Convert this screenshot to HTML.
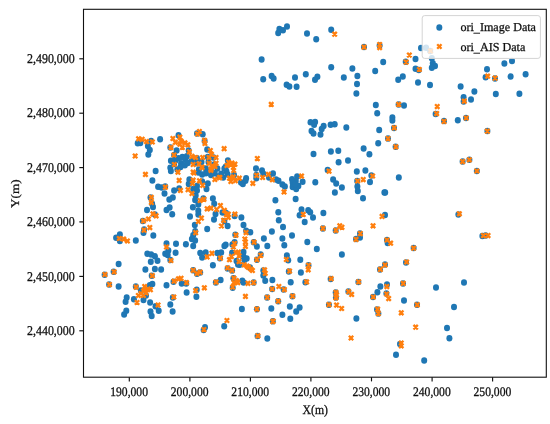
<!DOCTYPE html>
<html><head><meta charset="utf-8"><title>plot</title>
<style>
html,body{margin:0;padding:0;background:#fff;}
svg{display:block;font-family:"Liberation Serif",serif;}
text{text-rendering:geometricPrecision;}
</style></head><body>
<svg width="550" height="424" viewBox="0 0 550 424">
<rect x="0" y="0" width="550" height="424" fill="#fff"/>

<g fill="#1f77b4">
<ellipse cx="287.0" cy="26.4" rx="3.0" ry="3.25"/>
<ellipse cx="279.4" cy="29.0" rx="3.0" ry="3.25"/>
<ellipse cx="283.0" cy="30.2" rx="3.0" ry="3.25"/>
<ellipse cx="278.2" cy="33.0" rx="3.0" ry="3.25"/>
<ellipse cx="307.0" cy="33.4" rx="3.0" ry="3.25"/>
<ellipse cx="316.2" cy="39.2" rx="3.0" ry="3.25"/>
<ellipse cx="331.2" cy="29.8" rx="3.0" ry="3.25"/>
<ellipse cx="261.6" cy="59.4" rx="3.0" ry="3.25"/>
<ellipse cx="331.2" cy="67.2" rx="3.0" ry="3.25"/>
<ellipse cx="352.4" cy="68.4" rx="3.0" ry="3.25"/>
<ellipse cx="305.8" cy="74.2" rx="3.0" ry="3.25"/>
<ellipse cx="271.6" cy="76.0" rx="3.0" ry="3.25"/>
<ellipse cx="273.6" cy="78.4" rx="3.0" ry="3.25"/>
<ellipse cx="263.2" cy="79.2" rx="3.0" ry="3.25"/>
<ellipse cx="295.0" cy="77.6" rx="3.0" ry="3.25"/>
<ellipse cx="317.4" cy="76.8" rx="3.0" ry="3.25"/>
<ellipse cx="315.0" cy="79.8" rx="3.0" ry="3.25"/>
<ellipse cx="343.8" cy="77.4" rx="3.0" ry="3.25"/>
<ellipse cx="286.6" cy="84.8" rx="3.0" ry="3.25"/>
<ellipse cx="289.4" cy="86.6" rx="3.0" ry="3.25"/>
<ellipse cx="296.6" cy="86.8" rx="3.0" ry="3.25"/>
<ellipse cx="357.4" cy="76.0" rx="3.0" ry="3.25"/>
<ellipse cx="357.0" cy="84.0" rx="3.0" ry="3.25"/>
<ellipse cx="356.4" cy="93.6" rx="3.0" ry="3.25"/>
<ellipse cx="364.0" cy="47.0" rx="3.0" ry="3.25"/>
<ellipse cx="379.6" cy="45.6" rx="3.0" ry="3.25"/>
<ellipse cx="383.2" cy="62.0" rx="3.0" ry="3.25"/>
<ellipse cx="375.2" cy="71.0" rx="3.0" ry="3.25"/>
<ellipse cx="402.8" cy="76.6" rx="3.0" ry="3.25"/>
<ellipse cx="398.2" cy="79.8" rx="3.0" ry="3.25"/>
<ellipse cx="418.0" cy="82.6" rx="3.0" ry="3.25"/>
<ellipse cx="430.0" cy="85.0" rx="3.0" ry="3.25"/>
<ellipse cx="421.0" cy="48.1" rx="3.0" ry="3.25"/>
<ellipse cx="426.1" cy="47.8" rx="3.0" ry="3.25"/>
<ellipse cx="430.2" cy="51.0" rx="3.0" ry="3.25"/>
<ellipse cx="431.8" cy="58.3" rx="3.0" ry="3.25"/>
<ellipse cx="415.5" cy="59.0" rx="3.0" ry="3.25"/>
<ellipse cx="405.7" cy="61.8" rx="3.0" ry="3.25"/>
<ellipse cx="415.5" cy="68.8" rx="3.0" ry="3.25"/>
<ellipse cx="418.8" cy="70.0" rx="3.0" ry="3.25"/>
<ellipse cx="432.8" cy="63.3" rx="3.0" ry="3.25"/>
<ellipse cx="435.0" cy="66.0" rx="3.0" ry="3.25"/>
<ellipse cx="431.8" cy="67.8" rx="3.0" ry="3.25"/>
<ellipse cx="512.0" cy="61.0" rx="3.0" ry="3.25"/>
<ellipse cx="504.4" cy="63.6" rx="3.0" ry="3.25"/>
<ellipse cx="487.0" cy="69.2" rx="3.0" ry="3.25"/>
<ellipse cx="485.6" cy="77.2" rx="3.0" ry="3.25"/>
<ellipse cx="495.0" cy="78.4" rx="3.0" ry="3.25"/>
<ellipse cx="510.6" cy="76.6" rx="3.0" ry="3.25"/>
<ellipse cx="525.6" cy="74.2" rx="3.0" ry="3.25"/>
<ellipse cx="460.6" cy="86.4" rx="3.0" ry="3.25"/>
<ellipse cx="474.4" cy="91.4" rx="3.0" ry="3.25"/>
<ellipse cx="495.8" cy="94.0" rx="3.0" ry="3.25"/>
<ellipse cx="519.4" cy="93.8" rx="3.0" ry="3.25"/>
<ellipse cx="463.6" cy="97.2" rx="3.0" ry="3.25"/>
<ellipse cx="471.0" cy="99.6" rx="3.0" ry="3.25"/>
<ellipse cx="463.6" cy="101.6" rx="3.0" ry="3.25"/>
<ellipse cx="444.0" cy="121.0" rx="3.0" ry="3.25"/>
<ellipse cx="457.8" cy="120.2" rx="3.0" ry="3.25"/>
<ellipse cx="466.0" cy="118.0" rx="3.0" ry="3.25"/>
<ellipse cx="487.4" cy="131.0" rx="3.0" ry="3.25"/>
<ellipse cx="310.5" cy="122.2" rx="3.0" ry="3.25"/>
<ellipse cx="315.1" cy="121.9" rx="3.0" ry="3.25"/>
<ellipse cx="314.1" cy="124.7" rx="3.0" ry="3.25"/>
<ellipse cx="323.6" cy="126.0" rx="3.0" ry="3.25"/>
<ellipse cx="321.7" cy="128.9" rx="3.0" ry="3.25"/>
<ellipse cx="311.5" cy="131.1" rx="3.0" ry="3.25"/>
<ellipse cx="313.5" cy="133.6" rx="3.0" ry="3.25"/>
<ellipse cx="320.5" cy="134.5" rx="3.0" ry="3.25"/>
<ellipse cx="330.6" cy="124.7" rx="3.0" ry="3.25"/>
<ellipse cx="334.7" cy="124.3" rx="3.0" ry="3.25"/>
<ellipse cx="346.3" cy="127.4" rx="3.0" ry="3.25"/>
<ellipse cx="313.5" cy="154.0" rx="3.0" ry="3.25"/>
<ellipse cx="330.9" cy="151.5" rx="3.0" ry="3.25"/>
<ellipse cx="338.3" cy="150.8" rx="3.0" ry="3.25"/>
<ellipse cx="338.6" cy="162.2" rx="3.0" ry="3.25"/>
<ellipse cx="348.0" cy="160.4" rx="3.0" ry="3.25"/>
<ellipse cx="327.6" cy="170.0" rx="3.0" ry="3.25"/>
<ellipse cx="256.0" cy="168.6" rx="3.0" ry="3.25"/>
<ellipse cx="262.0" cy="170.6" rx="3.0" ry="3.25"/>
<ellipse cx="273.0" cy="173.6" rx="3.0" ry="3.25"/>
<ellipse cx="375.8" cy="105.0" rx="3.0" ry="3.25"/>
<ellipse cx="377.2" cy="113.2" rx="3.0" ry="3.25"/>
<ellipse cx="398.6" cy="104.6" rx="3.0" ry="3.25"/>
<ellipse cx="404.0" cy="105.6" rx="3.0" ry="3.25"/>
<ellipse cx="392.4" cy="117.6" rx="3.0" ry="3.25"/>
<ellipse cx="392.4" cy="120.4" rx="3.0" ry="3.25"/>
<ellipse cx="379.2" cy="130.0" rx="3.0" ry="3.25"/>
<ellipse cx="394.0" cy="128.0" rx="3.0" ry="3.25"/>
<ellipse cx="388.0" cy="138.6" rx="3.0" ry="3.25"/>
<ellipse cx="378.2" cy="143.2" rx="3.0" ry="3.25"/>
<ellipse cx="395.6" cy="146.8" rx="3.0" ry="3.25"/>
<ellipse cx="363.6" cy="148.4" rx="3.0" ry="3.25"/>
<ellipse cx="369.4" cy="154.2" rx="3.0" ry="3.25"/>
<ellipse cx="356.8" cy="171.6" rx="3.0" ry="3.25"/>
<ellipse cx="365.4" cy="170.6" rx="3.0" ry="3.25"/>
<ellipse cx="435.6" cy="114.0" rx="3.0" ry="3.25"/>
<ellipse cx="462.6" cy="161.6" rx="3.0" ry="3.25"/>
<ellipse cx="469.4" cy="159.8" rx="3.0" ry="3.25"/>
<ellipse cx="476.8" cy="171.0" rx="3.0" ry="3.25"/>
<ellipse cx="458.4" cy="214.4" rx="3.0" ry="3.25"/>
<ellipse cx="482.4" cy="236.0" rx="3.0" ry="3.25"/>
<ellipse cx="485.6" cy="235.4" rx="3.0" ry="3.25"/>
<ellipse cx="464.0" cy="282.6" rx="3.0" ry="3.25"/>
<ellipse cx="398.8" cy="177.4" rx="3.0" ry="3.25"/>
<ellipse cx="357.2" cy="181.0" rx="3.0" ry="3.25"/>
<ellipse cx="370.0" cy="182.0" rx="3.0" ry="3.25"/>
<ellipse cx="357.4" cy="186.4" rx="3.0" ry="3.25"/>
<ellipse cx="357.8" cy="191.0" rx="3.0" ry="3.25"/>
<ellipse cx="363.0" cy="198.2" rx="3.0" ry="3.25"/>
<ellipse cx="384.4" cy="192.4" rx="3.0" ry="3.25"/>
<ellipse cx="385.0" cy="215.0" rx="3.0" ry="3.25"/>
<ellipse cx="360.0" cy="233.6" rx="3.0" ry="3.25"/>
<ellipse cx="360.0" cy="237.6" rx="3.0" ry="3.25"/>
<ellipse cx="356.0" cy="239.0" rx="3.0" ry="3.25"/>
<ellipse cx="387.0" cy="240.0" rx="3.0" ry="3.25"/>
<ellipse cx="387.6" cy="243.0" rx="3.0" ry="3.25"/>
<ellipse cx="413.6" cy="248.0" rx="3.0" ry="3.25"/>
<ellipse cx="385.0" cy="264.6" rx="3.0" ry="3.25"/>
<ellipse cx="380.0" cy="269.4" rx="3.0" ry="3.25"/>
<ellipse cx="406.0" cy="262.4" rx="3.0" ry="3.25"/>
<ellipse cx="358.4" cy="282.0" rx="3.0" ry="3.25"/>
<ellipse cx="387.0" cy="284.4" rx="3.0" ry="3.25"/>
<ellipse cx="380.4" cy="286.4" rx="3.0" ry="3.25"/>
<ellipse cx="403.0" cy="283.4" rx="3.0" ry="3.25"/>
<ellipse cx="377.4" cy="292.2" rx="3.0" ry="3.25"/>
<ellipse cx="386.4" cy="293.6" rx="3.0" ry="3.25"/>
<ellipse cx="373.0" cy="297.0" rx="3.0" ry="3.25"/>
<ellipse cx="436.0" cy="287.6" rx="3.0" ry="3.25"/>
<ellipse cx="404.0" cy="300.6" rx="3.0" ry="3.25"/>
<ellipse cx="417.0" cy="304.8" rx="3.0" ry="3.25"/>
<ellipse cx="454.0" cy="307.0" rx="3.0" ry="3.25"/>
<ellipse cx="377.0" cy="309.4" rx="3.0" ry="3.25"/>
<ellipse cx="378.4" cy="313.6" rx="3.0" ry="3.25"/>
<ellipse cx="356.4" cy="318.6" rx="3.0" ry="3.25"/>
<ellipse cx="447.0" cy="328.0" rx="3.0" ry="3.25"/>
<ellipse cx="449.4" cy="338.2" rx="3.0" ry="3.25"/>
<ellipse cx="400.0" cy="344.0" rx="3.0" ry="3.25"/>
<ellipse cx="396.0" cy="354.8" rx="3.0" ry="3.25"/>
<ellipse cx="424.2" cy="360.6" rx="3.0" ry="3.25"/>
<ellipse cx="297.1" cy="176.5" rx="3.0" ry="3.25"/>
<ellipse cx="292.0" cy="179.3" rx="3.0" ry="3.25"/>
<ellipse cx="295.8" cy="180.9" rx="3.0" ry="3.25"/>
<ellipse cx="292.6" cy="182.8" rx="3.0" ry="3.25"/>
<ellipse cx="298.4" cy="186.0" rx="3.0" ry="3.25"/>
<ellipse cx="292.6" cy="186.9" rx="3.0" ry="3.25"/>
<ellipse cx="296.2" cy="188.9" rx="3.0" ry="3.25"/>
<ellipse cx="302.6" cy="181.8" rx="3.0" ry="3.25"/>
<ellipse cx="315.3" cy="182.3" rx="3.0" ry="3.25"/>
<ellipse cx="333.1" cy="179.6" rx="3.0" ry="3.25"/>
<ellipse cx="336.2" cy="183.5" rx="3.0" ry="3.25"/>
<ellipse cx="341.9" cy="187.5" rx="3.0" ry="3.25"/>
<ellipse cx="334.9" cy="192.4" rx="3.0" ry="3.25"/>
<ellipse cx="295.6" cy="199.0" rx="3.0" ry="3.25"/>
<ellipse cx="301.5" cy="209.5" rx="3.0" ry="3.25"/>
<ellipse cx="308.2" cy="210.2" rx="3.0" ry="3.25"/>
<ellipse cx="310.2" cy="212.3" rx="3.0" ry="3.25"/>
<ellipse cx="299.6" cy="215.3" rx="3.0" ry="3.25"/>
<ellipse cx="323.4" cy="213.1" rx="3.0" ry="3.25"/>
<ellipse cx="313.0" cy="217.4" rx="3.0" ry="3.25"/>
<ellipse cx="295.2" cy="184.3" rx="3.0" ry="3.25"/>
<ellipse cx="304.7" cy="222.0" rx="3.0" ry="3.25"/>
<ellipse cx="322.9" cy="228.4" rx="3.0" ry="3.25"/>
<ellipse cx="335.7" cy="230.5" rx="3.0" ry="3.25"/>
<ellipse cx="292.0" cy="235.4" rx="3.0" ry="3.25"/>
<ellipse cx="307.3" cy="242.0" rx="3.0" ry="3.25"/>
<ellipse cx="316.8" cy="249.0" rx="3.0" ry="3.25"/>
<ellipse cx="341.9" cy="254.6" rx="3.0" ry="3.25"/>
<ellipse cx="286.9" cy="255.5" rx="3.0" ry="3.25"/>
<ellipse cx="288.2" cy="260.2" rx="3.0" ry="3.25"/>
<ellipse cx="300.3" cy="259.8" rx="3.0" ry="3.25"/>
<ellipse cx="308.5" cy="265.3" rx="3.0" ry="3.25"/>
<ellipse cx="288.8" cy="271.4" rx="3.0" ry="3.25"/>
<ellipse cx="300.9" cy="272.6" rx="3.0" ry="3.25"/>
<ellipse cx="290.7" cy="282.2" rx="3.0" ry="3.25"/>
<ellipse cx="305.4" cy="282.2" rx="3.0" ry="3.25"/>
<ellipse cx="330.6" cy="279.0" rx="3.0" ry="3.25"/>
<ellipse cx="292.4" cy="296.2" rx="3.0" ry="3.25"/>
<ellipse cx="289.8" cy="306.4" rx="3.0" ry="3.25"/>
<ellipse cx="299.6" cy="307.6" rx="3.0" ry="3.25"/>
<ellipse cx="296.2" cy="311.5" rx="3.0" ry="3.25"/>
<ellipse cx="290.3" cy="318.8" rx="3.0" ry="3.25"/>
<ellipse cx="335.7" cy="292.4" rx="3.0" ry="3.25"/>
<ellipse cx="335.9" cy="297.5" rx="3.0" ry="3.25"/>
<ellipse cx="328.9" cy="304.8" rx="3.0" ry="3.25"/>
<ellipse cx="348.4" cy="291.5" rx="3.0" ry="3.25"/>
<ellipse cx="227.9" cy="160.4" rx="3.0" ry="3.25"/>
<ellipse cx="225.7" cy="166.7" rx="3.0" ry="3.25"/>
<ellipse cx="226.4" cy="171.2" rx="3.0" ry="3.25"/>
<ellipse cx="227.6" cy="174.4" rx="3.0" ry="3.25"/>
<ellipse cx="223.2" cy="177.5" rx="3.0" ry="3.25"/>
<ellipse cx="234.0" cy="175.0" rx="3.0" ry="3.25"/>
<ellipse cx="241.0" cy="182.6" rx="3.0" ry="3.25"/>
<ellipse cx="242.9" cy="183.9" rx="3.0" ry="3.25"/>
<ellipse cx="246.1" cy="178.2" rx="3.0" ry="3.25"/>
<ellipse cx="245.5" cy="180.7" rx="3.0" ry="3.25"/>
<ellipse cx="256.3" cy="175.0" rx="3.0" ry="3.25"/>
<ellipse cx="256.3" cy="178.2" rx="3.0" ry="3.25"/>
<ellipse cx="263.3" cy="173.7" rx="3.0" ry="3.25"/>
<ellipse cx="269.0" cy="177.5" rx="3.0" ry="3.25"/>
<ellipse cx="276.0" cy="179.5" rx="3.0" ry="3.25"/>
<ellipse cx="278.5" cy="180.7" rx="3.0" ry="3.25"/>
<ellipse cx="282.4" cy="184.5" rx="3.0" ry="3.25"/>
<ellipse cx="284.9" cy="186.5" rx="3.0" ry="3.25"/>
<ellipse cx="160.1" cy="139.3" rx="3.0" ry="3.25"/>
<ellipse cx="155.6" cy="170.9" rx="3.0" ry="3.25"/>
<ellipse cx="178.5" cy="135.3" rx="3.0" ry="3.25"/>
<ellipse cx="170.3" cy="147.4" rx="3.0" ry="3.25"/>
<ellipse cx="176.6" cy="150.5" rx="3.0" ry="3.25"/>
<ellipse cx="174.1" cy="155.0" rx="3.0" ry="3.25"/>
<ellipse cx="170.9" cy="160.7" rx="3.0" ry="3.25"/>
<ellipse cx="178.5" cy="158.2" rx="3.0" ry="3.25"/>
<ellipse cx="174.1" cy="163.9" rx="3.0" ry="3.25"/>
<ellipse cx="170.3" cy="167.7" rx="3.0" ry="3.25"/>
<ellipse cx="181.1" cy="163.3" rx="3.0" ry="3.25"/>
<ellipse cx="185.5" cy="159.5" rx="3.0" ry="3.25"/>
<ellipse cx="184.9" cy="165.2" rx="3.0" ry="3.25"/>
<ellipse cx="188.7" cy="150.5" rx="3.0" ry="3.25"/>
<ellipse cx="186.8" cy="156.3" rx="3.0" ry="3.25"/>
<ellipse cx="177.3" cy="169.6" rx="3.0" ry="3.25"/>
<ellipse cx="197.0" cy="133.4" rx="3.0" ry="3.25"/>
<ellipse cx="202.7" cy="134.3" rx="3.0" ry="3.25"/>
<ellipse cx="204.6" cy="141.0" rx="3.0" ry="3.25"/>
<ellipse cx="207.2" cy="149.5" rx="3.0" ry="3.25"/>
<ellipse cx="207.8" cy="156.9" rx="3.0" ry="3.25"/>
<ellipse cx="197.0" cy="158.2" rx="3.0" ry="3.25"/>
<ellipse cx="191.9" cy="160.7" rx="3.0" ry="3.25"/>
<ellipse cx="198.9" cy="169.6" rx="3.0" ry="3.25"/>
<ellipse cx="205.9" cy="168.4" rx="3.0" ry="3.25"/>
<ellipse cx="213.5" cy="157.5" rx="3.0" ry="3.25"/>
<ellipse cx="217.4" cy="168.4" rx="3.0" ry="3.25"/>
<ellipse cx="224.4" cy="168.4" rx="3.0" ry="3.25"/>
<ellipse cx="175.4" cy="160.5" rx="3.0" ry="3.25"/>
<ellipse cx="180.5" cy="167.1" rx="3.0" ry="3.25"/>
<ellipse cx="187.8" cy="163.0" rx="3.0" ry="3.25"/>
<ellipse cx="182.4" cy="156.9" rx="3.0" ry="3.25"/>
<ellipse cx="195.7" cy="163.3" rx="3.0" ry="3.25"/>
<ellipse cx="201.5" cy="162.0" rx="3.0" ry="3.25"/>
<ellipse cx="211.0" cy="170.9" rx="3.0" ry="3.25"/>
<ellipse cx="208.5" cy="162.0" rx="3.0" ry="3.25"/>
<ellipse cx="214.2" cy="164.5" rx="3.0" ry="3.25"/>
<ellipse cx="137.7" cy="143.2" rx="3.0" ry="3.25"/>
<ellipse cx="140.3" cy="142.9" rx="3.0" ry="3.25"/>
<ellipse cx="151.1" cy="141.0" rx="3.0" ry="3.25"/>
<ellipse cx="147.9" cy="146.1" rx="3.0" ry="3.25"/>
<ellipse cx="149.8" cy="149.9" rx="3.0" ry="3.25"/>
<ellipse cx="148.3" cy="154.6" rx="3.0" ry="3.25"/>
<ellipse cx="152.4" cy="180.4" rx="3.0" ry="3.25"/>
<ellipse cx="158.1" cy="186.8" rx="3.0" ry="3.25"/>
<ellipse cx="150.5" cy="197.4" rx="3.0" ry="3.25"/>
<ellipse cx="152.1" cy="203.7" rx="3.0" ry="3.25"/>
<ellipse cx="153.0" cy="206.9" rx="3.0" ry="3.25"/>
<ellipse cx="147.0" cy="210.1" rx="3.0" ry="3.25"/>
<ellipse cx="154.9" cy="214.5" rx="3.0" ry="3.25"/>
<ellipse cx="142.8" cy="220.9" rx="3.0" ry="3.25"/>
<ellipse cx="165.2" cy="186.5" rx="3.0" ry="3.25"/>
<ellipse cx="164.5" cy="193.5" rx="3.0" ry="3.25"/>
<ellipse cx="174.1" cy="190.4" rx="3.0" ry="3.25"/>
<ellipse cx="179.2" cy="188.5" rx="3.0" ry="3.25"/>
<ellipse cx="172.8" cy="197.4" rx="3.0" ry="3.25"/>
<ellipse cx="169.3" cy="199.5" rx="3.0" ry="3.25"/>
<ellipse cx="169.6" cy="207.5" rx="3.0" ry="3.25"/>
<ellipse cx="166.5" cy="210.1" rx="3.0" ry="3.25"/>
<ellipse cx="172.2" cy="214.3" rx="3.0" ry="3.25"/>
<ellipse cx="190.0" cy="216.5" rx="3.0" ry="3.25"/>
<ellipse cx="192.9" cy="207.2" rx="3.0" ry="3.25"/>
<ellipse cx="189.4" cy="179.5" rx="3.0" ry="3.25"/>
<ellipse cx="188.7" cy="184.0" rx="3.0" ry="3.25"/>
<ellipse cx="193.2" cy="189.1" rx="3.0" ry="3.25"/>
<ellipse cx="197.0" cy="185.9" rx="3.0" ry="3.25"/>
<ellipse cx="195.7" cy="195.5" rx="3.0" ry="3.25"/>
<ellipse cx="195.1" cy="199.9" rx="3.0" ry="3.25"/>
<ellipse cx="198.3" cy="204.4" rx="3.0" ry="3.25"/>
<ellipse cx="198.3" cy="210.7" rx="3.0" ry="3.25"/>
<ellipse cx="198.3" cy="214.5" rx="3.0" ry="3.25"/>
<ellipse cx="203.4" cy="198.6" rx="3.0" ry="3.25"/>
<ellipse cx="206.5" cy="189.1" rx="3.0" ry="3.25"/>
<ellipse cx="207.8" cy="183.4" rx="3.0" ry="3.25"/>
<ellipse cx="202.1" cy="181.5" rx="3.0" ry="3.25"/>
<ellipse cx="198.3" cy="172.5" rx="3.0" ry="3.25"/>
<ellipse cx="205.9" cy="173.2" rx="3.0" ry="3.25"/>
<ellipse cx="214.8" cy="173.2" rx="3.0" ry="3.25"/>
<ellipse cx="218.6" cy="176.4" rx="3.0" ry="3.25"/>
<ellipse cx="221.2" cy="173.8" rx="3.0" ry="3.25"/>
<ellipse cx="212.9" cy="198.6" rx="3.0" ry="3.25"/>
<ellipse cx="214.2" cy="203.7" rx="3.0" ry="3.25"/>
<ellipse cx="215.5" cy="213.9" rx="3.0" ry="3.25"/>
<ellipse cx="214.0" cy="219.5" rx="3.0" ry="3.25"/>
<ellipse cx="222.5" cy="212.6" rx="3.0" ry="3.25"/>
<ellipse cx="224.4" cy="220.9" rx="3.0" ry="3.25"/>
<ellipse cx="194.8" cy="225.0" rx="3.0" ry="3.25"/>
<ellipse cx="202.1" cy="174.5" rx="3.0" ry="3.25"/>
<ellipse cx="211.0" cy="175.1" rx="3.0" ry="3.25"/>
<ellipse cx="170.9" cy="171.0" rx="3.0" ry="3.25"/>
<ellipse cx="197.0" cy="190.4" rx="3.0" ry="3.25"/>
<ellipse cx="275.4" cy="200.2" rx="3.0" ry="3.25"/>
<ellipse cx="278.3" cy="212.3" rx="3.0" ry="3.25"/>
<ellipse cx="278.8" cy="220.3" rx="3.0" ry="3.25"/>
<ellipse cx="283.0" cy="226.9" rx="3.0" ry="3.25"/>
<ellipse cx="271.9" cy="231.4" rx="3.0" ry="3.25"/>
<ellipse cx="282.4" cy="238.4" rx="3.0" ry="3.25"/>
<ellipse cx="263.9" cy="238.4" rx="3.0" ry="3.25"/>
<ellipse cx="234.6" cy="216.1" rx="3.0" ry="3.25"/>
<ellipse cx="241.4" cy="217.4" rx="3.0" ry="3.25"/>
<ellipse cx="227.6" cy="225.9" rx="3.0" ry="3.25"/>
<ellipse cx="243.5" cy="225.0" rx="3.0" ry="3.25"/>
<ellipse cx="246.1" cy="230.7" rx="3.0" ry="3.25"/>
<ellipse cx="250.3" cy="232.3" rx="3.0" ry="3.25"/>
<ellipse cx="235.3" cy="234.8" rx="3.0" ry="3.25"/>
<ellipse cx="234.6" cy="242.2" rx="3.0" ry="3.25"/>
<ellipse cx="225.7" cy="244.8" rx="3.0" ry="3.25"/>
<ellipse cx="253.7" cy="242.2" rx="3.0" ry="3.25"/>
<ellipse cx="144.1" cy="229.5" rx="3.0" ry="3.25"/>
<ellipse cx="143.5" cy="232.7" rx="3.0" ry="3.25"/>
<ellipse cx="153.3" cy="235.5" rx="3.0" ry="3.25"/>
<ellipse cx="119.9" cy="234.6" rx="3.0" ry="3.25"/>
<ellipse cx="116.1" cy="237.8" rx="3.0" ry="3.25"/>
<ellipse cx="119.9" cy="241.0" rx="3.0" ry="3.25"/>
<ellipse cx="135.8" cy="240.4" rx="3.0" ry="3.25"/>
<ellipse cx="147.3" cy="253.7" rx="3.0" ry="3.25"/>
<ellipse cx="151.1" cy="254.6" rx="3.0" ry="3.25"/>
<ellipse cx="154.9" cy="256.3" rx="3.0" ry="3.25"/>
<ellipse cx="157.5" cy="260.7" rx="3.0" ry="3.25"/>
<ellipse cx="150.8" cy="261.7" rx="3.0" ry="3.25"/>
<ellipse cx="118.6" cy="263.9" rx="3.0" ry="3.25"/>
<ellipse cx="145.4" cy="269.6" rx="3.0" ry="3.25"/>
<ellipse cx="154.9" cy="269.0" rx="3.0" ry="3.25"/>
<ellipse cx="113.6" cy="271.8" rx="3.0" ry="3.25"/>
<ellipse cx="207.2" cy="228.9" rx="3.0" ry="3.25"/>
<ellipse cx="191.9" cy="239.1" rx="3.0" ry="3.25"/>
<ellipse cx="195.1" cy="240.4" rx="3.0" ry="3.25"/>
<ellipse cx="193.2" cy="246.1" rx="3.0" ry="3.25"/>
<ellipse cx="193.2" cy="235.3" rx="3.0" ry="3.25"/>
<ellipse cx="185.9" cy="244.2" rx="3.0" ry="3.25"/>
<ellipse cx="176.0" cy="243.8" rx="3.0" ry="3.25"/>
<ellipse cx="166.5" cy="243.5" rx="3.0" ry="3.25"/>
<ellipse cx="168.4" cy="250.5" rx="3.0" ry="3.25"/>
<ellipse cx="165.2" cy="253.7" rx="3.0" ry="3.25"/>
<ellipse cx="167.7" cy="255.0" rx="3.0" ry="3.25"/>
<ellipse cx="175.6" cy="252.7" rx="3.0" ry="3.25"/>
<ellipse cx="161.1" cy="269.6" rx="3.0" ry="3.25"/>
<ellipse cx="170.3" cy="260.1" rx="3.0" ry="3.25"/>
<ellipse cx="200.2" cy="253.1" rx="3.0" ry="3.25"/>
<ellipse cx="205.7" cy="252.5" rx="3.0" ry="3.25"/>
<ellipse cx="202.1" cy="257.5" rx="3.0" ry="3.25"/>
<ellipse cx="217.4" cy="253.1" rx="3.0" ry="3.25"/>
<ellipse cx="221.2" cy="252.5" rx="3.0" ry="3.25"/>
<ellipse cx="219.9" cy="258.2" rx="3.0" ry="3.25"/>
<ellipse cx="212.9" cy="265.2" rx="3.0" ry="3.25"/>
<ellipse cx="224.4" cy="246.1" rx="3.0" ry="3.25"/>
<ellipse cx="193.2" cy="270.3" rx="3.0" ry="3.25"/>
<ellipse cx="195.2" cy="231.2" rx="3.0" ry="3.25"/>
<ellipse cx="256.9" cy="246.4" rx="3.0" ry="3.25"/>
<ellipse cx="267.3" cy="246.1" rx="3.0" ry="3.25"/>
<ellipse cx="284.3" cy="245.3" rx="3.0" ry="3.25"/>
<ellipse cx="232.1" cy="252.7" rx="3.0" ry="3.25"/>
<ellipse cx="243.5" cy="252.1" rx="3.0" ry="3.25"/>
<ellipse cx="243.5" cy="256.5" rx="3.0" ry="3.25"/>
<ellipse cx="246.7" cy="258.5" rx="3.0" ry="3.25"/>
<ellipse cx="236.5" cy="261.0" rx="3.0" ry="3.25"/>
<ellipse cx="239.7" cy="264.8" rx="3.0" ry="3.25"/>
<ellipse cx="260.7" cy="254.6" rx="3.0" ry="3.25"/>
<ellipse cx="256.9" cy="259.7" rx="3.0" ry="3.25"/>
<ellipse cx="263.3" cy="270.5" rx="3.0" ry="3.25"/>
<ellipse cx="263.3" cy="275.6" rx="3.0" ry="3.25"/>
<ellipse cx="265.2" cy="280.7" rx="3.0" ry="3.25"/>
<ellipse cx="272.4" cy="280.1" rx="3.0" ry="3.25"/>
<ellipse cx="220.6" cy="280.1" rx="3.0" ry="3.25"/>
<ellipse cx="227.6" cy="268.6" rx="3.0" ry="3.25"/>
<ellipse cx="232.1" cy="270.5" rx="3.0" ry="3.25"/>
<ellipse cx="233.4" cy="278.2" rx="3.0" ry="3.25"/>
<ellipse cx="242.3" cy="280.7" rx="3.0" ry="3.25"/>
<ellipse cx="243.5" cy="282.6" rx="3.0" ry="3.25"/>
<ellipse cx="232.7" cy="287.7" rx="3.0" ry="3.25"/>
<ellipse cx="253.7" cy="282.6" rx="3.0" ry="3.25"/>
<ellipse cx="272.2" cy="289.0" rx="3.0" ry="3.25"/>
<ellipse cx="283.6" cy="289.6" rx="3.0" ry="3.25"/>
<ellipse cx="104.6" cy="274.8" rx="3.0" ry="3.25"/>
<ellipse cx="109.1" cy="284.6" rx="3.0" ry="3.25"/>
<ellipse cx="118.6" cy="286.5" rx="3.0" ry="3.25"/>
<ellipse cx="151.7" cy="275.7" rx="3.0" ry="3.25"/>
<ellipse cx="135.8" cy="286.5" rx="3.0" ry="3.25"/>
<ellipse cx="152.4" cy="284.0" rx="3.0" ry="3.25"/>
<ellipse cx="146.0" cy="295.5" rx="3.0" ry="3.25"/>
<ellipse cx="133.9" cy="299.3" rx="3.0" ry="3.25"/>
<ellipse cx="143.5" cy="299.9" rx="3.0" ry="3.25"/>
<ellipse cx="126.7" cy="297.4" rx="3.0" ry="3.25"/>
<ellipse cx="125.6" cy="301.8" rx="3.0" ry="3.25"/>
<ellipse cx="126.3" cy="310.7" rx="3.0" ry="3.25"/>
<ellipse cx="124.1" cy="314.5" rx="3.0" ry="3.25"/>
<ellipse cx="150.1" cy="302.5" rx="3.0" ry="3.25"/>
<ellipse cx="155.5" cy="306.3" rx="3.0" ry="3.25"/>
<ellipse cx="150.5" cy="311.4" rx="3.0" ry="3.25"/>
<ellipse cx="151.7" cy="316.1" rx="3.0" ry="3.25"/>
<ellipse cx="158.7" cy="310.7" rx="3.0" ry="3.25"/>
<ellipse cx="149.8" cy="285.3" rx="3.0" ry="3.25"/>
<ellipse cx="140.9" cy="290.4" rx="3.0" ry="3.25"/>
<ellipse cx="197.0" cy="273.8" rx="3.0" ry="3.25"/>
<ellipse cx="200.2" cy="272.5" rx="3.0" ry="3.25"/>
<ellipse cx="166.5" cy="285.3" rx="3.0" ry="3.25"/>
<ellipse cx="173.5" cy="281.7" rx="3.0" ry="3.25"/>
<ellipse cx="181.7" cy="283.4" rx="3.0" ry="3.25"/>
<ellipse cx="186.2" cy="283.4" rx="3.0" ry="3.25"/>
<ellipse cx="186.6" cy="292.5" rx="3.0" ry="3.25"/>
<ellipse cx="196.7" cy="289.7" rx="3.0" ry="3.25"/>
<ellipse cx="196.4" cy="296.7" rx="3.0" ry="3.25"/>
<ellipse cx="215.8" cy="282.5" rx="3.0" ry="3.25"/>
<ellipse cx="172.8" cy="297.4" rx="3.0" ry="3.25"/>
<ellipse cx="170.3" cy="304.4" rx="3.0" ry="3.25"/>
<ellipse cx="172.6" cy="311.4" rx="3.0" ry="3.25"/>
<ellipse cx="267.1" cy="297.4" rx="3.0" ry="3.25"/>
<ellipse cx="278.2" cy="301.2" rx="3.0" ry="3.25"/>
<ellipse cx="241.9" cy="309.1" rx="3.0" ry="3.25"/>
<ellipse cx="256.9" cy="309.3" rx="3.0" ry="3.25"/>
<ellipse cx="271.3" cy="308.5" rx="3.0" ry="3.25"/>
<ellipse cx="282.4" cy="314.8" rx="3.0" ry="3.25"/>
<ellipse cx="272.8" cy="321.2" rx="3.0" ry="3.25"/>
<ellipse cx="224.2" cy="326.3" rx="3.0" ry="3.25"/>
<ellipse cx="257.5" cy="336.1" rx="3.0" ry="3.25"/>
<ellipse cx="267.3" cy="338.4" rx="3.0" ry="3.25"/>
<ellipse cx="205.0" cy="327.2" rx="3.0" ry="3.25"/>
<ellipse cx="203.6" cy="330.0" rx="3.0" ry="3.25"/>
<ellipse cx="232.4" cy="244.4" rx="3.0" ry="3.25"/>
<ellipse cx="244.4" cy="260.0" rx="3.0" ry="3.25"/>
<ellipse cx="238.0" cy="264.4" rx="3.0" ry="3.25"/>
<ellipse cx="250.0" cy="267.6" rx="3.0" ry="3.25"/>
<ellipse cx="226.0" cy="213.0" rx="3.0" ry="3.25"/>
<ellipse cx="371.4" cy="175.6" rx="3.0" ry="3.25"/>
<ellipse cx="385.2" cy="192.4" rx="3.0" ry="3.25"/>
<ellipse cx="161.6" cy="187.6" rx="3.0" ry="3.25"/>
</g>
<g stroke="#ff7f0e" stroke-width="2.3" fill="none">
<path d="M332.5 31.9l4.3 4.6M332.5 36.5l4.3 -4.6M361.9 44.9l4.3 4.6M361.9 49.5l4.3 -4.6M377.5 42.3l4.3 4.6M377.5 46.9l4.3 -4.6M377.5 45.3l4.3 4.6M377.5 49.9l4.3 -4.6M407.2 52.8l4.3 4.6M407.2 57.4l4.3 -4.6M404.0 59.8l4.3 4.6M404.0 64.4l4.3 -4.6M417.2 67.2l4.3 4.6M417.2 71.8l4.3 -4.6M428.4 48.7l4.3 4.6M428.4 53.3l4.3 -4.6M485.5 73.9l4.3 4.6M485.5 78.5l4.3 -4.6M492.9 75.9l4.3 4.6M492.9 80.5l4.3 -4.6M462.1 98.9l4.3 4.6M462.1 103.5l4.3 -4.6M464.1 115.7l4.3 4.6M464.1 120.3l4.3 -4.6M441.9 119.1l4.3 4.6M441.9 123.7l4.3 -4.6M485.2 128.9l4.3 4.6M485.2 133.5l4.3 -4.6M269.1 102.1l4.3 4.6M269.1 106.7l4.3 -4.6M255.2 156.3l4.3 4.6M255.2 160.9l4.3 -4.6M326.9 168.9l4.3 4.6M326.9 173.5l4.3 -4.6M396.5 102.1l4.3 4.6M396.5 106.7l4.3 -4.6M392.1 125.5l4.3 4.6M392.1 130.1l4.3 -4.6M385.9 136.3l4.3 4.6M385.9 140.9l4.3 -4.6M393.7 144.5l4.3 4.6M393.7 149.1l4.3 -4.6M435.1 104.3l4.3 4.6M435.1 108.9l4.3 -4.6M434.5 111.3l4.3 4.6M434.5 115.9l4.3 -4.6M460.5 159.3l4.3 4.6M460.5 163.9l4.3 -4.6M467.2 157.5l4.3 4.6M467.2 162.1l4.3 -4.6M474.7 168.7l4.3 4.6M474.7 173.3l4.3 -4.6M457.2 211.5l4.3 4.6M457.2 216.1l4.3 -4.6M481.2 233.3l4.3 4.6M481.2 237.9l4.3 -4.6M485.9 233.3l4.3 4.6M485.9 237.9l4.3 -4.6M370.5 173.7l4.3 4.6M370.5 178.3l4.3 -4.6M361.1 177.3l4.3 4.6M361.1 181.9l4.3 -4.6M355.5 178.7l4.3 4.6M355.5 183.3l4.3 -4.6M379.9 214.1l4.3 4.6M379.9 218.7l4.3 -4.6M370.9 223.5l4.3 4.6M370.9 228.1l4.3 -4.6M358.2 231.3l4.3 4.6M358.2 235.9l4.3 -4.6M353.9 237.1l4.3 4.6M353.9 241.7l4.3 -4.6M384.9 237.7l4.3 4.6M384.9 242.3l4.3 -4.6M388.5 240.9l4.3 4.6M388.5 245.5l4.3 -4.6M411.5 245.9l4.3 4.6M411.5 250.5l4.3 -4.6M382.9 262.7l4.3 4.6M382.9 267.3l4.3 -4.6M378.2 267.1l4.3 4.6M378.2 271.7l4.3 -4.6M404.5 259.7l4.3 4.6M404.5 264.3l4.3 -4.6M356.5 279.5l4.3 4.6M356.5 284.1l4.3 -4.6M384.7 284.3l4.3 4.6M384.7 288.9l4.3 -4.6M401.1 281.1l4.3 4.6M401.1 285.7l4.3 -4.6M384.5 291.7l4.3 4.6M384.5 296.3l4.3 -4.6M386.5 296.3l4.3 4.6M386.5 300.9l4.3 -4.6M371.1 294.7l4.3 4.6M371.1 299.3l4.3 -4.6M349.5 292.1l4.3 4.6M349.5 296.7l4.3 -4.6M415.1 302.5l4.3 4.6M415.1 307.1l4.3 -4.6M375.5 306.9l4.3 4.6M375.5 311.5l4.3 -4.6M376.2 311.3l4.3 4.6M376.2 315.9l4.3 -4.6M399.1 310.5l4.3 4.6M399.1 315.1l4.3 -4.6M413.5 324.9l4.3 4.6M413.5 329.5l4.3 -4.6M399.1 340.7l4.3 4.6M399.1 345.3l4.3 -4.6M399.1 343.5l4.3 4.6M399.1 348.1l4.3 -4.6M348.9 335.7l4.3 4.6M348.9 340.3l4.3 -4.6M299.4 173.8l4.3 4.6M299.4 178.4l4.3 -4.6M301.1 212.1l4.3 4.6M301.1 216.7l4.3 -4.6M320.8 226.1l4.3 4.6M320.8 230.7l4.3 -4.6M333.8 228.0l4.3 4.6M333.8 232.6l4.3 -4.6M337.6 223.5l4.3 4.6M337.6 228.1l4.3 -4.6M339.8 225.0l4.3 4.6M339.8 229.6l4.3 -4.6M284.2 257.2l4.3 4.6M284.2 261.8l4.3 -4.6M306.4 263.0l4.3 4.6M306.4 267.6l4.3 -4.6M306.1 267.5l4.3 4.6M306.1 272.1l4.3 -4.6M287.4 268.8l4.3 4.6M287.4 273.4l4.3 -4.6M304.5 279.6l4.3 4.6M304.5 284.2l4.3 -4.6M329.0 276.4l4.3 4.6M329.0 281.0l4.3 -4.6M290.5 293.9l4.3 4.6M290.5 298.5l4.3 -4.6M333.8 290.1l4.3 4.6M333.8 294.7l4.3 -4.6M334.4 292.6l4.3 4.6M334.4 297.2l4.3 -4.6M333.8 295.5l4.3 4.6M333.8 300.1l4.3 -4.6M326.8 302.4l4.3 4.6M326.8 307.0l4.3 -4.6M334.4 302.8l4.3 4.6M334.4 307.4l4.3 -4.6M339.5 306.2l4.3 4.6M339.5 310.8l4.3 -4.6M346.5 289.4l4.3 4.6M346.5 294.0l4.3 -4.6M222.0 146.4l4.3 4.6M222.0 151.0l4.3 -4.6M226.5 160.0l4.3 4.6M226.5 164.6l4.3 -4.6M224.8 163.2l4.3 4.6M224.8 167.8l4.3 -4.6M228.7 162.5l4.3 4.6M228.7 167.1l4.3 -4.6M232.8 161.9l4.3 4.6M232.8 166.5l4.3 -4.6M231.2 165.1l4.3 4.6M231.2 169.7l4.3 -4.6M231.5 168.2l4.3 4.6M231.5 172.8l4.3 -4.6M217.8 175.2l4.3 4.6M217.8 179.8l4.3 -4.6M227.3 175.9l4.3 4.6M227.3 180.5l4.3 -4.6M231.2 174.6l4.3 4.6M231.2 179.2l4.3 -4.6M228.7 179.1l4.3 4.6M228.7 183.7l4.3 -4.6M233.2 178.4l4.3 4.6M233.2 183.0l4.3 -4.6M237.2 175.9l4.3 4.6M237.2 180.5l4.3 -4.6M250.7 181.0l4.3 4.6M250.7 185.6l4.3 -4.6M254.5 173.1l4.3 4.6M254.5 177.7l4.3 -4.6M260.5 175.2l4.3 4.6M260.5 179.8l4.3 -4.6M266.2 172.1l4.3 4.6M266.2 176.7l4.3 -4.6M270.2 177.4l4.3 4.6M270.2 182.0l4.3 -4.6M281.9 189.6l4.3 4.6M281.9 194.2l4.3 -4.6M197.3 129.2l4.3 4.6M197.3 133.8l4.3 -4.6M195.4 131.7l4.3 4.6M195.4 136.3l4.3 -4.6M170.7 136.2l4.3 4.6M170.7 140.8l4.3 -4.6M177.7 134.9l4.3 4.6M177.7 139.5l4.3 -4.6M173.2 140.0l4.3 4.6M173.2 144.6l4.3 -4.6M178.9 138.7l4.3 4.6M178.9 143.3l4.3 -4.6M177.7 141.9l4.3 4.6M177.7 146.5l4.3 -4.6M182.8 140.6l4.3 4.6M182.8 145.2l4.3 -4.6M168.8 145.1l4.3 4.6M168.8 149.7l4.3 -4.6M180.2 145.1l4.3 4.6M180.2 149.7l4.3 -4.6M185.7 142.5l4.3 4.6M185.7 147.1l4.3 -4.6M202.4 138.1l4.3 4.6M202.4 142.7l4.3 -4.6M202.8 141.2l4.3 4.6M202.8 145.8l4.3 -4.6M187.2 149.5l4.3 4.6M187.2 154.1l4.3 -4.6M171.9 152.7l4.3 4.6M171.9 157.3l4.3 -4.6M189.8 154.0l4.3 4.6M189.8 158.6l4.3 -4.6M193.5 155.2l4.3 4.6M193.5 159.8l4.3 -4.6M200.5 155.2l4.3 4.6M200.5 159.8l4.3 -4.6M208.2 148.2l4.3 4.6M208.2 152.8l4.3 -4.6M209.4 152.1l4.3 4.6M209.4 156.7l4.3 -4.6M206.9 155.2l4.3 4.6M206.9 159.8l4.3 -4.6M213.9 155.2l4.3 4.6M213.9 159.8l4.3 -4.6M172.2 162.2l4.3 4.6M172.2 166.8l4.3 -4.6M191.0 162.2l4.3 4.6M191.0 166.8l4.3 -4.6M196.8 161.6l4.3 4.6M196.8 166.2l4.3 -4.6M199.9 164.8l4.3 4.6M199.9 169.4l4.3 -4.6M206.9 161.0l4.3 4.6M206.9 165.6l4.3 -4.6M210.2 163.5l4.3 4.6M210.2 168.1l4.3 -4.6M213.9 161.0l4.3 4.6M213.9 165.6l4.3 -4.6M208.8 168.0l4.3 4.6M208.8 172.6l4.3 -4.6M175.8 169.9l4.3 4.6M175.8 174.5l4.3 -4.6M191.0 169.9l4.3 4.6M191.0 174.5l4.3 -4.6M136.4 136.5l4.3 4.6M136.4 141.1l4.3 -4.6M140.0 137.0l4.3 4.6M140.0 141.6l4.3 -4.6M144.4 139.3l4.3 4.6M144.4 143.9l4.3 -4.6M150.2 139.6l4.3 4.6M150.2 144.2l4.3 -4.6M133.0 153.7l4.3 4.6M133.0 158.3l4.3 -4.6M143.3 172.1l4.3 4.6M143.3 176.7l4.3 -4.6M149.2 195.1l4.3 4.6M149.2 199.7l4.3 -4.6M150.8 211.6l4.3 4.6M150.8 216.2l4.3 -4.6M154.0 213.5l4.3 4.6M154.0 218.1l4.3 -4.6M146.3 216.7l4.3 4.6M146.3 221.3l4.3 -4.6M141.3 218.6l4.3 4.6M141.3 223.2l4.3 -4.6M177.0 178.1l4.3 4.6M177.0 182.7l4.3 -4.6M163.2 184.9l4.3 4.6M163.2 189.5l4.3 -4.6M178.3 188.1l4.3 4.6M178.3 192.7l4.3 -4.6M185.9 187.4l4.3 4.6M185.9 192.0l4.3 -4.6M189.8 191.2l4.3 4.6M189.8 195.8l4.3 -4.6M191.0 177.9l4.3 4.6M191.0 182.5l4.3 -4.6M190.3 181.1l4.3 4.6M190.3 185.7l4.3 -4.6M197.3 178.5l4.3 4.6M197.3 183.1l4.3 -4.6M200.5 183.0l4.3 4.6M200.5 187.6l4.3 -4.6M212.7 177.2l4.3 4.6M212.7 181.8l4.3 -4.6M217.2 175.3l4.3 4.6M217.2 179.9l4.3 -4.6M198.0 198.2l4.3 4.6M198.0 202.8l4.3 -4.6M201.8 197.0l4.3 4.6M201.8 201.6l4.3 -4.6M205.0 206.5l4.3 4.6M205.0 211.1l4.3 -4.6M208.8 205.9l4.3 4.6M208.8 210.5l4.3 -4.6M214.5 207.2l4.3 4.6M214.5 211.8l4.3 -4.6M218.3 203.3l4.3 4.6M218.3 207.9l4.3 -4.6M199.3 215.8l4.3 4.6M199.3 220.4l4.3 -4.6M196.2 219.2l4.3 4.6M196.2 223.8l4.3 -4.6M221.5 218.0l4.3 4.6M221.5 222.6l4.3 -4.6M222.3 208.1l4.3 4.6M222.3 212.7l4.3 -4.6M226.2 211.9l4.3 4.6M226.2 216.5l4.3 -4.6M232.8 211.9l4.3 4.6M232.8 216.5l4.3 -4.6M226.2 215.1l4.3 4.6M226.2 219.7l4.3 -4.6M219.2 223.7l4.3 4.6M219.2 228.3l4.3 -4.6M233.8 232.9l4.3 4.6M233.8 237.5l4.3 -4.6M243.9 230.3l4.3 4.6M243.9 234.9l4.3 -4.6M242.7 236.7l4.3 4.6M242.7 241.3l4.3 -4.6M251.9 239.9l4.3 4.6M251.9 244.5l4.3 -4.6M232.4 241.2l4.3 4.6M232.4 245.8l4.3 -4.6M147.7 225.3l4.3 4.6M147.7 229.9l4.3 -4.6M141.9 227.9l4.3 4.6M141.9 232.5l4.3 -4.6M117.1 236.2l4.3 4.6M117.1 240.8l4.3 -4.6M121.5 236.8l4.3 4.6M121.5 241.4l4.3 -4.6M125.3 238.7l4.3 4.6M125.3 243.3l4.3 -4.6M112.0 269.5l4.3 4.6M112.0 274.1l4.3 -4.6M193.5 230.4l4.3 4.6M193.5 235.0l4.3 -4.6M164.3 244.7l4.3 4.6M164.3 249.3l4.3 -4.6M168.8 258.2l4.3 4.6M168.8 262.8l4.3 -4.6M205.0 254.6l4.3 4.6M205.0 259.2l4.3 -4.6M209.8 251.0l4.3 4.6M209.8 255.6l4.3 -4.6M218.3 255.9l4.3 4.6M218.3 260.5l4.3 -4.6M191.0 268.0l4.3 4.6M191.0 272.6l4.3 -4.6M198.0 269.9l4.3 4.6M198.0 274.5l4.3 -4.6M231.2 244.7l4.3 4.6M231.2 249.3l4.3 -4.6M243.3 239.6l4.3 4.6M243.3 244.2l4.3 -4.6M243.3 244.1l4.3 4.6M243.3 248.7l4.3 -4.6M236.3 249.8l4.3 4.6M236.3 254.4l4.3 -4.6M236.9 253.6l4.3 4.6M236.9 258.2l4.3 -4.6M229.3 254.2l4.3 4.6M229.3 258.8l4.3 -4.6M227.3 257.4l4.3 4.6M227.3 262.0l4.3 -4.6M236.9 259.3l4.3 4.6M236.9 263.9l4.3 -4.6M242.0 262.5l4.3 4.6M242.0 267.1l4.3 -4.6M246.4 265.1l4.3 4.6M246.4 269.7l4.3 -4.6M250.3 268.2l4.3 4.6M250.3 272.8l4.3 -4.6M258.6 253.0l4.3 4.6M258.6 257.6l4.3 -4.6M254.7 257.4l4.3 4.6M254.7 262.0l4.3 -4.6M225.4 265.7l4.3 4.6M225.4 270.3l4.3 -4.6M229.9 268.2l4.3 4.6M229.9 272.8l4.3 -4.6M262.4 267.6l4.3 4.6M262.4 272.2l4.3 -4.6M263.1 271.0l4.3 4.6M263.1 275.6l4.3 -4.6M231.8 275.9l4.3 4.6M231.8 280.5l4.3 -4.6M235.7 280.3l4.3 4.6M235.7 284.9l4.3 -4.6M231.8 280.3l4.3 4.6M231.8 284.9l4.3 -4.6M230.5 284.8l4.3 4.6M230.5 289.4l4.3 -4.6M245.8 281.0l4.3 4.6M245.8 285.6l4.3 -4.6M251.5 280.3l4.3 4.6M251.5 284.9l4.3 -4.6M270.1 286.7l4.3 4.6M270.1 291.3l4.3 -4.6M276.7 284.2l4.3 4.6M276.7 288.8l4.3 -4.6M282.2 287.3l4.3 4.6M282.2 291.9l4.3 -4.6M248.7 266.7l4.3 4.6M248.7 271.3l4.3 -4.6M244.8 263.8l4.3 4.6M244.8 268.4l4.3 -4.6M233.8 250.4l4.3 4.6M233.8 255.0l4.3 -4.6M234.3 278.4l4.3 4.6M234.3 283.0l4.3 -4.6M102.8 272.2l4.3 4.6M102.8 276.8l4.3 -4.6M107.3 282.3l4.3 4.6M107.3 286.9l4.3 -4.6M150.2 273.4l4.3 4.6M150.2 278.0l4.3 -4.6M133.9 284.9l4.3 4.6M133.9 289.5l4.3 -4.6M142.5 284.2l4.3 4.6M142.5 288.8l4.3 -4.6M145.8 286.8l4.3 4.6M145.8 291.4l4.3 -4.6M148.3 287.4l4.3 4.6M148.3 292.0l4.3 -4.6M141.3 288.7l4.3 4.6M141.3 293.3l4.3 -4.6M143.8 290.6l4.3 4.6M143.8 295.2l4.3 -4.6M138.8 291.2l4.3 4.6M138.8 295.8l4.3 -4.6M136.2 293.2l4.3 4.6M136.2 297.8l4.3 -4.6M141.3 293.2l4.3 4.6M141.3 297.8l4.3 -4.6M134.9 300.2l4.3 4.6M134.9 304.8l4.3 -4.6M155.9 302.7l4.3 4.6M155.9 307.3l4.3 -4.6M194.8 271.1l4.3 4.6M194.8 275.7l4.3 -4.6M171.9 278.9l4.3 4.6M171.9 283.5l4.3 -4.6M176.3 276.6l4.3 4.6M176.3 281.2l4.3 -4.6M178.9 276.0l4.3 4.6M178.9 280.6l4.3 -4.6M184.4 280.4l4.3 4.6M184.4 285.0l4.3 -4.6M213.9 279.8l4.3 4.6M213.9 284.4l4.3 -4.6M202.2 285.5l4.3 4.6M202.2 290.1l4.3 -4.6M193.5 288.3l4.3 4.6M193.5 292.9l4.3 -4.6M171.7 294.7l4.3 4.6M171.7 299.3l4.3 -4.6M243.3 294.1l4.3 4.6M243.3 298.7l4.3 -4.6M265.2 295.1l4.3 4.6M265.2 299.7l4.3 -4.6M276.1 298.9l4.3 4.6M276.1 303.5l4.3 -4.6M254.7 306.8l4.3 4.6M254.7 311.4l4.3 -4.6M271.1 318.9l4.3 4.6M271.1 323.5l4.3 -4.6M224.8 318.2l4.3 4.6M224.8 322.8l4.3 -4.6M255.7 333.5l4.3 4.6M255.7 338.1l4.3 -4.6M201.8 327.3l4.3 4.6M201.8 331.9l4.3 -4.6M208.8 166.7l4.3 4.6M208.8 171.3l4.3 -4.6M212.8 164.1l4.3 4.6M212.8 168.7l4.3 -4.6M199.8 165.3l4.3 4.6M199.8 169.9l4.3 -4.6M191.8 170.7l4.3 4.6M191.8 175.3l4.3 -4.6M229.8 160.7l4.3 4.6M229.8 165.3l4.3 -4.6M224.2 212.1l4.3 4.6M224.2 216.7l4.3 -4.6M270.7 319.3l4.3 4.6M270.7 323.9l4.3 -4.6M149.2 200.1l4.3 4.6M149.2 204.7l4.3 -4.6"/>
</g>
<rect x="83.5" y="9.3" width="462.8" height="367.9" fill="none" stroke="#111" stroke-width="1.1"/>
<g stroke="#111" stroke-width="1.15" fill="none">
<line x1="129.3" y1="377.2" x2="129.3" y2="381.4"/>
<line x1="189.9" y1="377.2" x2="189.9" y2="381.4"/>
<line x1="250.4" y1="377.2" x2="250.4" y2="381.4"/>
<line x1="310.9" y1="377.2" x2="310.9" y2="381.4"/>
<line x1="371.5" y1="377.2" x2="371.5" y2="381.4"/>
<line x1="432.1" y1="377.2" x2="432.1" y2="381.4"/>
<line x1="492.6" y1="377.2" x2="492.6" y2="381.4"/>
<line x1="79.3" y1="58.8" x2="83.5" y2="58.8"/>
<line x1="79.3" y1="113.2" x2="83.5" y2="113.2"/>
<line x1="79.3" y1="167.6" x2="83.5" y2="167.6"/>
<line x1="79.3" y1="221.9" x2="83.5" y2="221.9"/>
<line x1="79.3" y1="276.4" x2="83.5" y2="276.4"/>
<line x1="79.3" y1="330.8" x2="83.5" y2="330.8"/>
</g>
<g font-size="100" fill="#111" stroke="#111" stroke-width="2.2">
<text transform="translate(129.10,396.40) scale(0.1160,0.1311)" text-anchor="middle">190,000</text>
<text transform="translate(189.65,396.40) scale(0.1160,0.1311)" text-anchor="middle">200,000</text>
<text transform="translate(250.20,396.40) scale(0.1160,0.1311)" text-anchor="middle">210,000</text>
<text transform="translate(310.75,396.40) scale(0.1160,0.1311)" text-anchor="middle">220,000</text>
<text transform="translate(371.30,396.40) scale(0.1160,0.1311)" text-anchor="middle">230,000</text>
<text transform="translate(431.85,396.40) scale(0.1160,0.1311)" text-anchor="middle">240,000</text>
<text transform="translate(492.40,396.40) scale(0.1160,0.1311)" text-anchor="middle">250,000</text>
<text transform="translate(74.70,63.00) scale(0.1190,0.1345)" text-anchor="end">2,490,000</text>
<text transform="translate(74.70,117.40) scale(0.1190,0.1345)" text-anchor="end">2,480,000</text>
<text transform="translate(74.70,171.80) scale(0.1190,0.1345)" text-anchor="end">2,470,000</text>
<text transform="translate(74.70,226.20) scale(0.1190,0.1345)" text-anchor="end">2,460,000</text>
<text transform="translate(74.70,280.60) scale(0.1190,0.1345)" text-anchor="end">2,450,000</text>
<text transform="translate(74.70,335.00) scale(0.1190,0.1345)" text-anchor="end">2,440,000</text>
<text transform="translate(315.30,413.60) scale(0.1175,0.1316)" text-anchor="middle">X(m)</text>
<text transform="translate(18.70,193.70) rotate(-90) scale(0.1316,0.1175)" text-anchor="middle">Y(m)</text>
</g>
<rect x="422.2" y="15.6" width="118.2" height="42.8" rx="2.5" fill="#fff" fill-opacity="0.8" stroke="#d4d4d4" stroke-width="1"/>
<ellipse cx="439.3" cy="27.4" rx="3.0" ry="3.25" fill="#1f77b4"/>
<path d="M437.2 44.2l4.3 4.6M437.2 48.8l4.3 -4.6" stroke="#ff7f0e" stroke-width="2.3" fill="none"/>
<g font-size="100" fill="#111" stroke="#111" stroke-width="2.2"><text transform="translate(460.40,30.60) scale(0.1210,0.1210)" text-anchor="start">ori<tspan dy="12">_</tspan><tspan dy="-12">Image Data</tspan></text><text transform="translate(460.40,50.60) scale(0.1210,0.1210)" text-anchor="start">ori<tspan dy="12">_</tspan><tspan dy="-12">AIS Data</tspan></text></g>
</svg></body></html>
